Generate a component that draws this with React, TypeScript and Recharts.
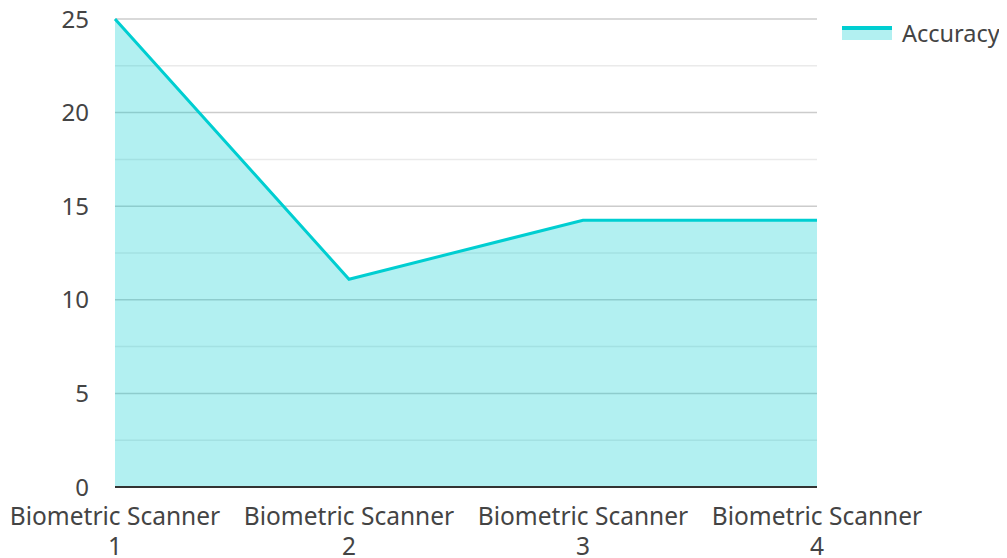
import React from 'react';
import { AreaChart, Area, XAxis, YAxis, CartesianGrid, Legend } from 'recharts';

const categories = ['Biometric Scanner 1', 'Biometric Scanner 2', 'Biometric Scanner 3', 'Biometric Scanner 4'];
const accuracy = [25, 11.1, 14.25, 14.25];
const yTicks = [0, 2.5, 5, 7.5, 10, 12.5, 15, 17.5, 20, 22.5, 25];
const majorStep = 5;

const data = categories.map((c, i) => ({ name: c, Accuracy: accuracy[i] }));

const FONT = '"Noto Sans", "Open Sans", sans-serif';
const TEAL = '#00CED1';
const TEXT = '#444444';
const FS = 24;
const XFS = 24.5;
const LFS = 23.5;

const XTick = (props: any) => {
  const { x, y, payload } = props;
  const label: string = payload.value;
  const cut = label.lastIndexOf(' ');
  const l1 = label.slice(0, cut);
  const l2 = label.slice(cut + 1);
  return (
    <text x={x} y={y} textAnchor="middle" fill={TEXT} fontSize={XFS} fontFamily={FONT}>
      <tspan x={x} dy={30}>{l1}</tspan>
      <tspan x={x} dy={30}>{l2}</tspan>
    </text>
  );
};

const gridLine = (props: any) => {
  const { x1, x2, y1, y2, index } = props;
  const v = yTicks[index];
  const major = v !== undefined && v % majorStep === 0;
  return (
    <line key={`g-${index}`} x1={x1} x2={x2} y1={y1} y2={y2} stroke={major ? '#cccccc' : '#eaeaea'} strokeWidth={1.5} />
  );
};

const LegendContent = () => (
  <div style={{ display: 'flex', alignItems: 'center', paddingLeft: 25, paddingTop: 10, fontFamily: FONT, whiteSpace: 'nowrap' }}>
    <svg width={50} height={14} style={{ display: 'block', flex: 'none' }}>
      <rect x={0} y={0} width={50} height={14} fill={TEAL} fillOpacity={0.3} />
      <rect x={0} y={0} width={50} height={4} fill={TEAL} />
    </svg>
    <span style={{ marginLeft: 10, fontSize: LFS, color: TEXT, lineHeight: '30px' }}>Accuracy</span>
  </div>
);

export default function App() {
  return (
    <div style={{ width: 999, height: 550 }}>
      <AreaChart width={999} height={550} data={data} margin={{ top: 11, right: 0, bottom: 0, left: 27 }} style={{ fontFamily: FONT }}>
        <CartesianGrid vertical={false} horizontal={gridLine} />
        <XAxis
          dataKey="name"
          tickLine={false}
          axisLine={{ stroke: '#333333', strokeWidth: 2 }}
          height={71}
          interval={0}
          tick={<XTick />}
        />
        <YAxis
          domain={[0, 25]}
          ticks={yTicks}
          interval={0}
          width={80}
          axisLine={false}
          tickLine={false}
          tickSize={0}
          tickMargin={26}
          tickFormatter={(v: number) => (v % majorStep === 0 ? String(v) : '')}
          tick={{ fill: TEXT, fontSize: FS, fontFamily: FONT }}
        />
        <Legend
          layout="vertical"
          align="right"
          verticalAlign="top"
          content={<LegendContent />}
          wrapperStyle={{ top: 0, right: 0, width: 190 }}
        />
        <Area
          type="linear"
          dataKey="Accuracy"
          stroke={TEAL}
          strokeWidth={3}
          fill={TEAL}
          fillOpacity={0.3}
          dot={false}
          activeDot={false}
          isAnimationActive={false}
        />
      </AreaChart>
    </div>
  );
}
